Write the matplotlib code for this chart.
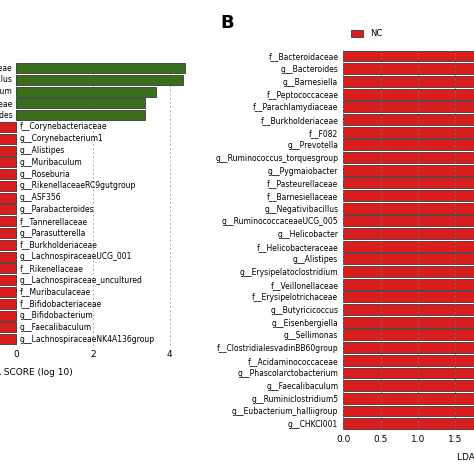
import matplotlib.pyplot as plt

# left panel (cropped): green group on top, red group below
green_names = ["f__Lactobacillaceae", "g__Lactobacillus", "g__Bifidobacterium",
               "f__Muribaculaceae", "g__Parabacteroides"]
green_vals = [4.4, 4.35, 3.65, 3.35, 3.35]
red_names = ["f__Corynebacteriaceae", "g__Corynebacterium1", "g__Alistipes",
             "g__Muribaculum", "g__Roseburia", "g__RikenellaceaeRC9gutgroup",
             "g__ASF356", "g__Parabacteroides", "f__Tannerellaceae",
             "g__Parasutterella", "f__Burkholderiaceae", "g__LachnospiraceaeUCG_001",
             "f__Rikenellaceae", "g__Lachnospiraceae_uncultured", "f__Muribaculaceae",
             "f__Bifidobacteriaceae", "g__Bifidobacterium", "g__Faecalibaculum",
             "g__LachnospiraceaeNK4A136group"]
red_vals = [-3.2, -3.1, -3.0, -3.0, -2.9, -2.9, -2.8, -2.8, -2.7, -2.7,
            -2.6, -2.6, -2.5, -2.5, -2.4, -2.4, -2.3, -2.3, -2.2]

# right panel B: NC enriched taxa
nc_names = ["f__Bacteroidaceae", "g__Bacteroides", "g__Barnesiella", "f__Peptococcaceae",
            "f__Parachlamydiaceae", "f__Burkholderiaceae", "f__F082", "g__Prevotella",
            "g__Ruminococcus_torquesgroup", "g__Pygmaiobacter", "f__Pasteurellaceae",
            "f__Barnesiellaceae", "g__Negativibacillus", "g__RuminococcaceaeUCG_005",
            "g__Helicobacter", "f__Helicobacteraceae", "g__Alistipes",
            "g__Erysipelatoclostridium", "f__Veillonellaceae", "f__Erysipelotrichaceae",
            "g__Butyricicoccus", "g__Eisenbergiella", "g__Sellimonas",
            "f__ClostridialesvadinBB60group", "f__Acidaminococcaceae",
            "g__Phascolarctobacterium", "g__Faecalibaculum", "g__Ruminiclostridium5",
            "g__Eubacterium_halliigroup", "g__CHKCI001"]
nc_vals = [4.2, 4.1, 4.0, 3.9, 3.8, 3.7, 3.6, 3.5, 3.4, 3.3, 3.2, 3.1, 3.0, 2.95, 2.9,
           2.85, 2.8, 2.75, 2.7, 2.65, 2.6, 2.55, 2.5, 2.45, 2.4, 2.35, 2.3, 2.25, 2.2, 2.1]

red = "#d81e1e"
green = "#3b6e1c"
fs = 5.5

fig = plt.figure(figsize=(4.74, 4.74), dpi=100)

# ---- left panel
ax1 = fig.add_axes([0.0, 0.272, 0.40, 0.597])
names = green_names + red_names
vals = green_vals + red_vals
cols = [green] * len(green_vals) + [red] * len(red_vals)
y = list(range(len(vals)))
ax1.barh(y, vals, height=0.85, color=cols, edgecolor="#222222", linewidth=0.5)
ax1.set_ylim(len(vals) - 0.5, -0.5)
ax1.set_xlim(-0.415, 4.52)
for i, (n, v) in enumerate(zip(names, vals)):
    if v > 0:
        ax1.text(-0.08, i, n, ha="right", va="center", fontsize=fs, clip_on=False)
    else:
        ax1.text(0.1, i, n, ha="left", va="center", fontsize=fs)
ax1.set_yticks([])
ax1.set_xticks([0, 2, 4])
ax1.tick_params(axis="x", labelsize=6.5, length=0, top=False)
ax1.grid(axis="x", linestyle=(0, (2, 3)), color="#999999", linewidth=0.6)
ax1.set_axisbelow(True)
for s in ax1.spines.values():
    s.set_visible(False)
ax1.set_xlabel("LDA SCORE (log 10)", fontsize=6.5)
ax1.xaxis.set_label_coords(-0.09, -0.08)
ax1.xaxis.label.set_horizontalalignment("left")

# ---- right panel
ax2 = fig.add_axes([0.724, 0.093, 0.276, 0.802])
y2 = list(range(len(nc_vals)))
ax2.barh(y2, nc_vals, height=0.85, color=red, edgecolor="#222222", linewidth=0.5, label="NC")
ax2.set_ylim(len(nc_vals) - 0.5, -0.5)
ax2.set_xlim(0, 1.75)
ax2.set_yticks(y2)
ax2.set_yticklabels(nc_names, fontsize=fs)
ax2.set_xticks([0.0, 0.5, 1.0, 1.5])
ax2.set_xticklabels(["0.0", "0.5", "1.0", "1.5"])
ax2.tick_params(axis="both", labelsize=6.5, length=0)
ax2.tick_params(axis="y", labelsize=fs)
ax2.grid(axis="x", linestyle=(0, (2, 3)), color="#777777", linewidth=0.6)
ax2.set_axisbelow(False)
for s in ax2.spines.values():
    s.set_visible(False)
ax2.set_xlabel("LDA SCORE (log 10)", fontsize=6.5)
ax2.xaxis.set_label_coords(0.87, -0.06)
ax2.xaxis.label.set_horizontalalignment("left")
ax2.legend(loc="lower left", bbox_to_anchor=(0.0, 1.01), fontsize=6, frameon=False,
           handlelength=1.5, handleheight=0.8)

fig.text(0.464, 0.97, "B", fontsize=13, fontweight="bold", va="top")

fig.savefig("out.png", dpi=100)
